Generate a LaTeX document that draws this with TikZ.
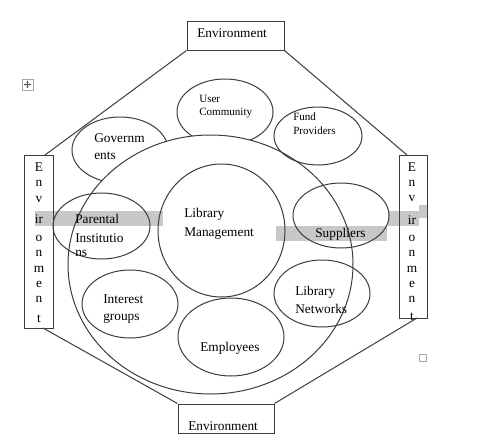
\documentclass[tikz,border=0pt]{standalone}
\usepackage{fontspec}
\setmainfont{Liberation Serif}
\usetikzlibrary{shapes.geometric,arrows.meta}
\pgfdeclarelayer{fills}
\pgfdeclarelayer{hl}
\pgfsetlayers{fills,hl,main}
\definecolor{hlgray}{RGB}{200,200,200}
\definecolor{ink}{RGB}{60,60,60}
\begin{document}
\begin{tikzpicture}[x=0.75pt,y=-0.75pt,
  oval/.style 2 args={ellipse, inner sep=0pt, minimum width={#1*1.5pt}, minimum height={#2*1.5pt}},
  ovl/.style={draw=ink, line width=0.75pt},
  frame/.style 2 args={rectangle, draw=ink, line width=0.75pt, inner sep=0pt, minimum width={#1*0.75pt}, minimum height={#2*0.75pt}},
  lbl/.style={anchor=base west, inner sep=0pt, font=\fontsize{10}{12}\selectfont},
  sml/.style={anchor=base west, inner sep=0pt, font=\fontsize{8.3}{10}\selectfont},
  link/.style={draw=ink, line width=0.75pt},
  artefact/.style={draw=gray!70, line width=0.5pt, inner sep=0pt}]
\useasboundingbox (0,0) rectangle (493,446);

% environment frames
\node[frame={97}{29}] (envTop) at (235.5,35.5) {};
\node[frame={96}{29}] (envBot) at (226,418.5) {};
\node[frame={29}{173}] (envL) at (38.5,241.5) {};
\node[frame={28}{163}] (envR) at (413,236.5) {};

\coordinate (lt) at (45,155);
\coordinate (lb) at (43,328);
\coordinate (rt) at (407,155);
\coordinate (rb) at (417,318);
\draw[link] (envTop.south west) -- (lt);
\draw[link] (envTop.south east) -- (rt);
\draw[link] (lb) -- (envBot.north west);
\draw[link] (rb) -- (envBot.north east);

% background: ellipses partly hidden, white fills
\begin{pgfonlayer}{fills}
  \node[oval={48}{33}, ovl] (gov) at (120,150) {};
  \node[oval={48}{33}, ovl] (user) at (225,112) {};
  \node[oval={142.5}{129.5}, fill=white] (bigfill) at (210.5,264.5) {};
  \node[oval={48.5}{33}, fill=white] (parfill) at (101.5,226) {};
  \node[oval={48}{32.5}, fill=white] (supfill) at (341,215.5) {};
  \node[oval={48}{33.5}, fill=white] (netfill) at (322,293.5) {};
\end{pgfonlayer}

% highlight bars
\begin{pgfonlayer}{hl}
  \fill[hlgray] (35,211) rectangle (163,226);
  \fill[hlgray] (276,226) rectangle (387,241);
  \fill[hlgray] (388,211) rectangle (419,226);
  \fill[hlgray] (419,205) rectangle (427,218);
\end{pgfonlayer}

% ellipses
\node[oval={142.5}{129.5}, ovl] (big) at (210.5,264.5) {};
\node[oval={44}{29}, ovl] (fund) at (318,136) {};
\node[oval={63.5}{66.5}, ovl] (mgmt) at (221.5,230.5) {};
\node[oval={48.5}{33}, ovl] (par) at (101.5,226) {};
\node[oval={48}{32.5}, ovl] (sup) at (341,215.5) {};
\node[oval={48}{33.5}, ovl] (net) at (322,293.5) {};
\node[oval={48}{34}, ovl] (int) at (130,304) {};
\node[oval={53}{39}, ovl] (emp) at (231,337) {};

% texts
\node[lbl] (tTop) at (197,37) {Environment};
\node[lbl] (tBot) at (188,430) {Environment};
\node[sml] (tUser1) at (199,102) {User};
\node[sml] (tUser2) at (199,115) {Community};
\node[sml] (tFund1) at (293,120) {Fund};
\node[sml] (tFund2) at (293,134) {Providers};
\node[lbl] (tGov1) at (94,142) {Governm};
\node[lbl] (tGov2) at (94,159) {ents};
\node[lbl] (tPar1) at (75,223) {Parental};
\node[lbl] (tPar2) at (75,242) {Institutio};
\node[lbl] (tPar3) at (75,256) {ns};
\node[lbl] (tMg1) at (184,217) {Library};
\node[lbl] (tMg2) at (184,236) {Management};
\node[lbl] (tSup) at (315,237) {Suppliers};
\node[lbl] (tNet1) at (295,295) {Library};
\node[lbl] (tNet2) at (295,313) {Networks};
\node[lbl] (tInt1) at (103,303) {Interest};
\node[lbl] (tInt2) at (103,320) {groups};
\node[lbl] (tEmp) at (200,351) {Employees};

\foreach \ch/\yy [count=\i] in {E/171,n/186,v/202,ir/223,o/241,n/256,m/272,e/287,n/302,t/322}
  \node[lbl, anchor=base] (envLt\i) at (39,\yy) {\ch};
\foreach \ch/\yy [count=\i] in {E/171,n/186,v/201,ir/224,o/241,n/256,m/272,e/287,n/302,t/320}
  \node[lbl, anchor=base] (envRt\i) at (412,\yy) {\ch};

% editor artefacts
\node[artefact, minimum size=8.25pt] (handle) at (27.5,84.5) {};
\draw[gray!60!black, line width=0.4pt, {Triangle[length=1.2pt,width=1.6pt]}-{Triangle[length=1.2pt,width=1.6pt]}] (23.8,84.5) -- (31.2,84.5);
\draw[gray!60!black, line width=0.4pt, {Triangle[length=1.2pt,width=1.6pt]}-{Triangle[length=1.2pt,width=1.6pt]}] (27.5,80.8) -- (27.5,88.2);
\node[artefact, minimum size=5.6pt] (sq) at (423,358) {};
\end{tikzpicture}
\end{document}
